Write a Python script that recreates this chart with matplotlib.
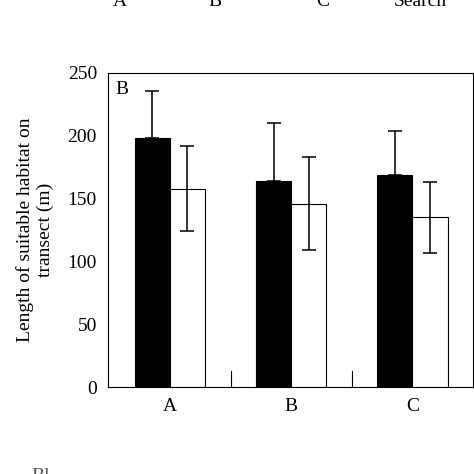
import matplotlib.pyplot as plt
import numpy as np

plt.rcParams['font.family'] = 'Liberation Serif'

categories = ['A', 'B', 'C']
black_vals = [198, 164, 169]
black_upper = [236, 210, 204]
white_vals = [158, 146, 135]
white_lower = [124, 109, 107]
white_upper = [192, 183, 163]

fig = plt.figure(figsize=(4.74, 4.74), dpi=100)
ax = fig.add_axes([0.228, 0.1835, 0.77, 0.6625])

x = np.arange(len(categories))
w = 0.29
black_err = [np.zeros(3), np.array(black_upper) - np.array(black_vals)]
white_err = [np.array(white_vals) - np.array(white_lower),
             np.array(white_upper) - np.array(white_vals)]
ax.bar(x - w / 2, black_vals, w, color='black', edgecolor='black', linewidth=0.8,
       yerr=black_err, capsize=5, error_kw=dict(elinewidth=1.1, capthick=1.1))
ax.bar(x + w / 2, white_vals, w, color='white', edgecolor='black', linewidth=0.8,
       yerr=white_err, capsize=5, error_kw=dict(elinewidth=1.1, capthick=1.1))

ax.set_xlim(-0.51, 2.5)
ax.set_ylim(0, 250)
ax.set_yticks([0, 50, 100, 150, 200, 250])
ax.set_xticks(x)
ax.set_xticklabels(categories)
ax.tick_params(axis='both', length=0, labelsize=14, pad=8)
# small separators between groups
for s in [0.5, 1.5]:
    ax.plot([s, s], [0, 13], color='black', linewidth=0.8)
ax.text(0.02, 0.975, 'B', transform=ax.transAxes, fontsize=14, va='top')
ax.set_ylabel('Length of suitable habitat on\ntransect (m)', fontsize=14, labelpad=10)

# cut-off labels from neighbouring panels
for xp, t in [(0.253, 'A'), (0.454, 'B'), (0.68, 'C'), (0.886, 'Search')]:
    fig.text(xp, 0.997, t, fontsize=14, ha='center', va='center')
fig.text(0.085, -0.005, 'Bl', fontsize=14, ha='center', va='center', color='#555555')

fig.savefig('out.png', dpi=100)
